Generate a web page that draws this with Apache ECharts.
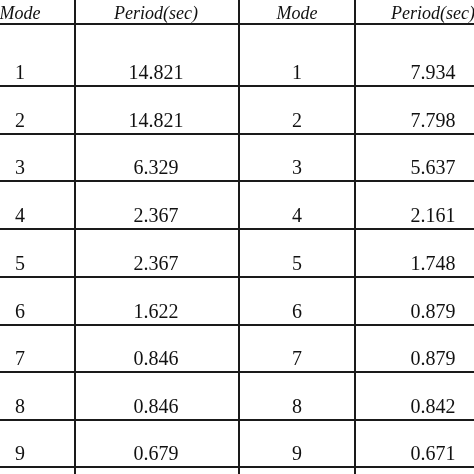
<!DOCTYPE html>
<html>
<head>
<meta charset="UTF-8">
<title>Mode periods</title>
<script src="https://cdn.jsdelivr.net/npm/echarts@6/dist/echarts.min.js"></script>
<style>
	html, body { margin: 0; padding: 0; background: #fff; }
	#main { width: 474px; height: 474px; }
</style>
</head>
<body>
<div id="main"></div>
<script>
	// table content
	var headers = ['Mode', 'Period(sec)', 'Mode', 'Period(sec)'];
	var modesA = ['1', '2', '3', '4', '5', '6', '7', '8', '9'];
	var periodsA = ['14.821', '14.821', '6.329', '2.367', '2.367', '1.622', '0.846', '0.846', '0.679'];
	var modesB = ['1', '2', '3', '4', '5', '6', '7', '8', '9'];
	var periodsB = ['7.934', '7.798', '5.637', '2.161', '1.748', '0.879', '0.879', '0.842', '0.671'];

	// layout (pixel grid of the picture)
	var colLines = [75, 239, 355];
	var rowLines = [24, 86, 134, 181, 229, 277, 325, 372, 420, 467];
	var colCenters = [20, 156, 297, 433];

	var cells = [];
	headers.forEach(function(h, c) {
		cells.push([colCenters[c], rowLines[0] - 1, h, 1]);
	});
	var cols = [modesA, periodsA, modesB, periodsB];
	for (var r = 0; r < modesA.length; r++) {
		for (var c = 0; c < 4; c++) {
			cells.push([colCenters[c], rowLines[r + 1] - 2, cols[c][r], 0]);
		}
	}

	var segs = [];
	for (var i = 0; i < rowLines.length; i++) segs.push([0, rowLines[i], 474, rowLines[i]]);
	colLines.forEach(function(x) { segs.push([x, 0, x, 474]); });

	var chart = echarts.init(document.getElementById('main'));
	chart.setOption({
		animation: false,
		grid: { left: 0, right: 0, top: 0, bottom: 0 },
		xAxis: { type: 'value', min: 0, max: 474, show: false },
		yAxis: { type: 'value', min: 0, max: 474, inverse: true, show: false },
		series: [{
			type: 'custom',
			data: segs,
			renderItem: function(params, api) {
				var a = api.coord([api.value(0), api.value(1)]);
				var b = api.coord([api.value(2), api.value(3)]);
				return {
					type: 'line',
					shape: { x1: a[0], y1: a[1], x2: b[0], y2: b[1] },
					style: { stroke: '#1a1a1a', lineWidth: 2 }
				};
			}
		}, {
			type: 'custom',
			data: cells,
			renderItem: function(params, api) {
				var p = api.coord([api.value(0), api.value(1)]);
				var isHead = api.value(3) === 1;
				return {
					type: 'text',
					x: p[0], y: p[1],
					style: {
						text: cells[params.dataIndex][2],
						fill: '#111',
						font: (isHead ? 'italic 18px' : '20px') + ' "Liberation Serif"',
						align: 'center',
						verticalAlign: 'bottom'
					}
				};
			}
		}]
	});
</script>
</body>
</html>
